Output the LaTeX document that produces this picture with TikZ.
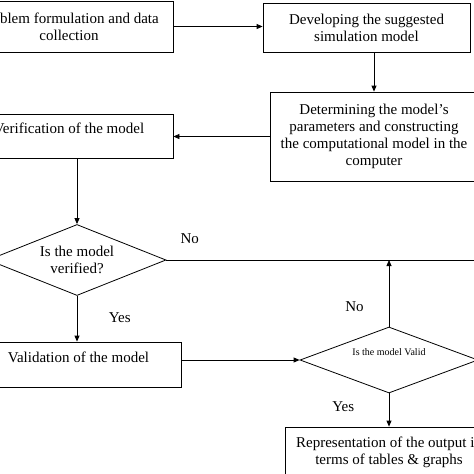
\documentclass[tikz,border=0pt]{standalone}
\usepackage{fontspec}
\setmainfont{Liberation Serif}
\usetikzlibrary{shapes.geometric,arrows.meta}

\begin{document}
\begin{tikzpicture}[x=1pt, y=-1pt,
    font=\fontsize{15pt}{16.8pt}\selectfont,
    line width=0.8pt, >={Triangle[length=6pt, width=5pt]},
    box/.style={draw, rectangle, align=center, inner sep=0pt, minimum width=208pt},
    topbox/.style={box, minimum height=44pt, text height=19.5pt, text depth=24.5pt},
    decision/.style={draw, diamond, align=center, inner sep=0pt, aspect=2.5, minimum width=178pt},
    lbl/.style={inner sep=0pt}]
  \useasboundingbox (0,0) rectangle (474,474);
  \clip (0,0) rectangle (474,474);

  \node[box, minimum height=51pt] (prob) at (69,26.5) {Problem formulation and data\\collection};
  \node[box, minimum width=207pt, minimum height=49pt] (dev) at (366.5,27.5) {Developing the suggested\\simulation model};
  \node[box, minimum height=89pt] (param) at (374,136.5) {Determining the model's\\parameters and constructing\\the computational model in the\\computer};
  \node[topbox] (verif) at (69,136) {Verification of the model};
  \node[decision, minimum height=71pt] (dverif) at (77,260) {Is the model\\verified?};
  \node[topbox, minimum width=205pt, minimum height=45pt] (valid) at (78.5,364.5) {Validation of the model};
  \node[decision, minimum height=66pt, font=\fontsize{10pt}{12pt}\selectfont,
        text height=7pt, text depth=16.4pt] (dvalid) at (389,360) {Is the model Valid};
  \node[box, minimum height=51pt] (output) at (389,452.5) {Representation of the output in\\terms of tables \& graphs};

  \coordinate (farright) at (500,260);
  \coordinate (noturn) at (dvalid.north |- dverif.east);

  \draw[->] (prob.east) -- (prob.east -| dev.west);
  \draw[->] (dev.south -| param.north) -- (param.north);
  \draw[->] (param.west) -- (param.west -| verif.east);
  \draw[->] (verif.south -| dverif.north) -- (dverif.north);
  \draw (dverif.east) -- node[lbl, pos=0.07, above=16pt] {No} (farright);
  \draw[->] (dverif.south) -- node[lbl, pos=0.47, right=31.5pt] {Yes} (dverif.south |- valid.north);
  \draw[->] (valid.east |- dvalid.west) -- (dvalid.west);
  \draw[->] (dvalid.north) -- node[lbl, pos=0.3, left=25pt] {No} (noturn);
  \draw[->] (dvalid.south) -- node[lbl, pos=0.41, left=34.5pt] {Yes} (output.north);
\end{tikzpicture}
\end{document}
